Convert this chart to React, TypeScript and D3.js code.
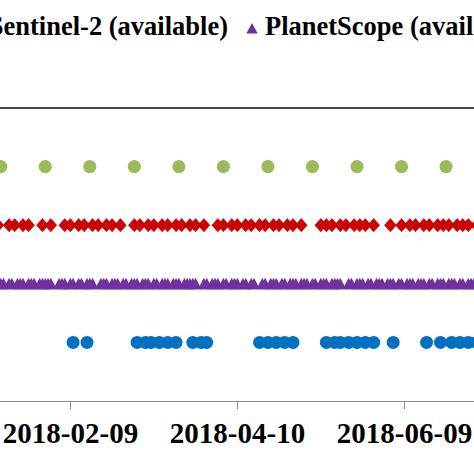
import React from "react";
import * as d3 from "d3";

// Day offsets from 2018-01-01 (day 0)
const landsatDays = [14, 30, 46, 62, 78, 94, 110, 126, 142, 158, 174];
const sentinelDays = [
  13, 17, 19, 22, 24, 29, 32, 37, 39, 42, 44, 47, 49, 52, 54, 57,
  62, 64, 67, 69, 72, 74, 77, 79, 82, 84, 87,
  92, 94, 97, 99, 102, 104, 107, 109, 112, 114, 117, 119, 122,
  129, 131, 133, 136, 138, 141, 143, 145, 148, 154,
  158, 161, 163, 166, 168, 171, 173, 175, 178, 180, 182, 185,
];
const planetDays = [
  12, 13, 14, 15, 17, 18, 20, 21, 22, 24, 25, 26, 28, 29, 30, 31, 32, 35, 36, 37,
  39, 40, 42, 43, 45, 46, 47, 50, 51, 52, 54, 55, 56, 58, 59, 61, 62, 63, 65, 66,
  67, 69, 70, 72, 73, 74, 76, 77, 78, 80, 81, 82, 83, 84, 87, 88, 90, 91, 92, 94,
  95, 97, 98, 99, 101, 102, 104, 105, 108, 109, 111, 112, 113, 115, 116, 118, 119,
  120, 122, 123, 124, 126, 127, 129, 130, 131, 133, 134, 135, 136, 139, 140, 142,
  143, 144, 146, 147, 149, 150, 151, 153, 154, 155, 157, 158, 160, 161, 162, 164,
  165, 166, 168, 169, 171, 172, 173, 175, 176, 177, 179, 180, 182, 183, 184, 186,
];
const usedDays = [
  40, 45, 63, 66, 68, 71, 74, 77, 83, 86, 88, 107, 110, 113, 116, 119,
  131, 134, 136, 139, 142, 145, 148, 155, 167, 172, 176, 179, 182, 185,
];
const tickLabels = ["2018-02-09", "2018-04-10", "2018-06-09"];
const legendLabels = ["Sentinel-2 (available)", "PlanetScope (available)"];

const dayToDate = (d: number) => new Date(Date.UTC(2018, 0, 1) + d * 86400000);
const parse = d3.utcParse("%Y-%m-%d");

export default function App() {
  const x = d3
    .scaleUtc()
    .domain([parse(tickLabels[0])!, parse(tickLabels[2])!])
    .range([70.3, 404.3]);
  const y = d3.scaleLinear().domain([0, 5]).range([401, 108]);
  const font = "'Liberation Serif', 'Times New Roman', serif";

  const tri = "M0,-6L6,5.5L-6,5.5Z";
  const diamond = "M0,-6.6L5.9,0L0,6.6L-5.9,0Z";

  return (
    <svg
      width={474}
      height={474}
      style={{ position: "fixed", left: 0, top: 0, background: "#fff" }}
    >
      <rect width={474} height={474} fill="#fff" />
      {/* legend */}
      <text
        x={228}
        y={35}
        textAnchor="end"
        fontFamily={font}
        fontWeight="bold"
        fontSize={26.5}
        fill="#000"
      >
        {legendLabels[0]}
      </text>
      <path d={tri} transform="translate(252,28.5) scale(0.95,0.9)" fill="#7030A0" />
      <text x={265} y={35} fontFamily={font} fontWeight="bold" fontSize={26.5} fill="#000">
        {legendLabels[1]}
      </text>

      {/* plot top border */}
      <line x1={0} x2={474} y1={y(5)} y2={y(5)} stroke="#4a4a4a" strokeWidth={2} />

      {/* series */}
      {landsatDays.map((d, i) => (
        <circle key={"l" + i} cx={x(dayToDate(d))} cy={y(4)} r={6.6} fill="#9BBB59" />
      ))}
      {sentinelDays.map((d, i) => (
        <path
          key={"s" + i}
          d={diamond}
          transform={`translate(${x(dayToDate(d))},${y(3)})`}
          fill="#D00000"
          stroke="#B00000"
          strokeWidth={0.6}
        />
      ))}
      {planetDays.map((d, i) => (
        <path
          key={"p" + i}
          d={tri}
          transform={`translate(${x(dayToDate(d))},${y(2)})`}
          fill="#7030A0"
        />
      ))}
      {usedDays.map((d, i) => (
        <circle key={"u" + i} cx={x(dayToDate(d))} cy={y(1)} r={6.5} fill="#0070C0" />
      ))}

      {/* x axis */}
      <line x1={0} x2={474} y1={y(0) + 0.5} y2={y(0) + 0.5} stroke="#8c8c8c" strokeWidth={1} />
      {tickLabels.map((t) => {
        const tx = Math.round(x(parse(t)!)) + 0.5;
        return (
          <g key={t}>
            <line x1={tx} x2={tx} y1={y(0)} y2={y(0) + 8} stroke="#8c8c8c" strokeWidth={1} />
            <text
              x={tx}
              y={443}
              textAnchor="middle"
              fontFamily={font}
              fontWeight="bold"
              fontSize={29}
              fill="#000"
            >
              {t}
            </text>
          </g>
        );
      })}
    </svg>
  );
}
